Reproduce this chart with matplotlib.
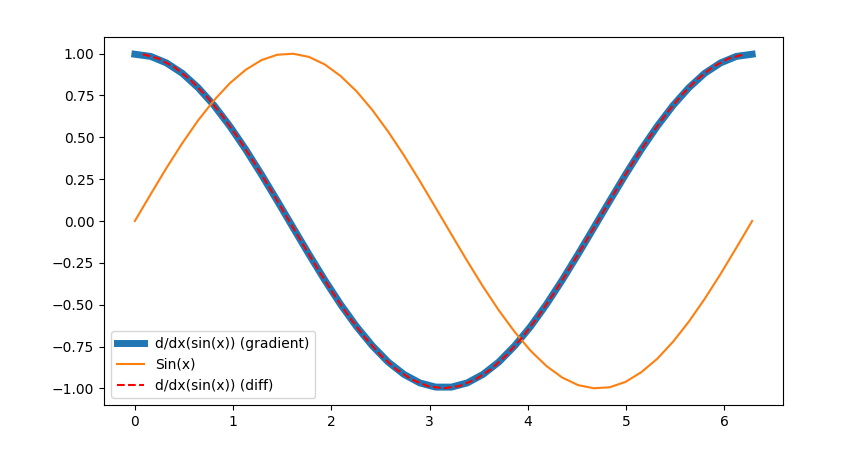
import matplotlib
matplotlib.use('Agg')
import matplotlib.pyplot as plt
import numpy as np

# sample points (0 .. 2*pi, 40 samples)
x = [0.000, 0.161, 0.322, 0.483, 0.644, 0.806, 0.967, 1.128, 1.289, 1.450,
     1.611, 1.772, 1.933, 2.094, 2.256, 2.417, 2.578, 2.739, 2.900, 3.061,
     3.222, 3.383, 3.544, 3.705, 3.867, 4.028, 4.189, 4.350, 4.511, 4.672,
     4.833, 4.994, 5.155, 5.317, 5.478, 5.639, 5.800, 5.961, 6.122, 6.283]

sin_y = [0.000, 0.160, 0.317, 0.465, 0.601, 0.721, 0.823, 0.903, 0.961, 0.993,
         0.999, 0.980, 0.935, 0.866, 0.775, 0.663, 0.534, 0.392, 0.239, 0.080,
         -0.080, -0.239, -0.392, -0.534, -0.663, -0.775, -0.866, -0.935, -0.980, -0.999,
         -0.993, -0.961, -0.903, -0.823, -0.721, -0.601, -0.465, -0.317, -0.160, 0.000]

grad_y = [0.996, 0.983, 0.944, 0.882, 0.796, 0.690, 0.566, 0.427, 0.277, 0.120,
          -0.040, -0.199, -0.353, -0.498, -0.630, -0.745, -0.842, -0.916, -0.967, -0.992,
          -0.992, -0.967, -0.916, -0.842, -0.745, -0.630, -0.498, -0.353, -0.199, -0.040,
          0.120, 0.277, 0.427, 0.566, 0.690, 0.796, 0.882, 0.944, 0.983, 0.996]

diff_y = [0.996, 0.970, 0.919, 0.844, 0.748, 0.632, 0.499, 0.354, 0.200, 0.040,
          -0.120, -0.278, -0.428, -0.567, -0.692, -0.799, -0.885, -0.947, -0.986, -0.999,
          -0.986, -0.947, -0.885, -0.799, -0.692, -0.567, -0.428, -0.278, -0.120, 0.040,
          0.200, 0.354, 0.499, 0.632, 0.748, 0.844, 0.919, 0.970, 0.996]

xa = np.array(x)
x_mid = (xa[1:] + xa[:-1]) / 2

fig = plt.figure(figsize=(8.65, 4.54), dpi=100)
ax = fig.add_axes([104 / 865, 49 / 454, 679 / 865, 368 / 454])
ax.plot(x, grad_y, linewidth=5, label='d/dx(sin(x)) (gradient)')
ax.plot(x, sin_y, label='Sin(x)')
ax.plot(x_mid, diff_y, 'r--', label='d/dx(sin(x)) (diff)')
ax.legend(loc='lower left')
fig.savefig('out.png', dpi=100)
